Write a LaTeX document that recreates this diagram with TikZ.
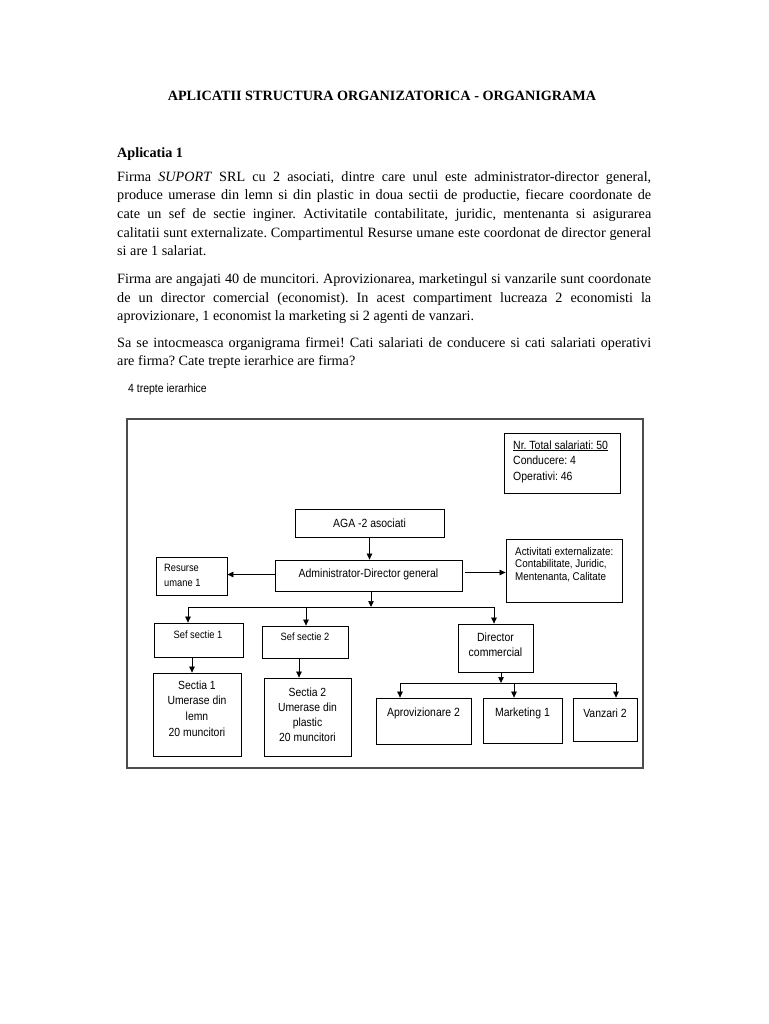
\documentclass[tikz,border=0pt]{standalone}
\usepackage{fontspec}
\setmainfont{Liberation Serif}
\newfontfamily\arialf[FakeStretch=0.88]{Liberation Sans}
\usetikzlibrary{arrows.meta}
\frenchspacing
\tikzset{
  box/.style={draw=black, line width=0.8pt, inner sep=0pt, rectangle},
  tx/.style={inner sep=0pt, font=\arialf},
  conn/.style={draw=black, line width=0.7pt},
  arr/.style={conn, -{Triangle[length=6pt,width=5.5pt]}},
  bodyline/.style={anchor=base west, inner sep=0pt, font=\fontsize{14.2}{18.5}\selectfont},
}
\newcommand{\jl}[1]{\makebox[534pt][s]{#1}}
\begin{document}
\begin{tikzpicture}[x=1pt,y=-1pt]
\useasboundingbox[fill=white] (0,0) rectangle (768,1024);

% ---- heading and body text ----
\node[anchor=base, inner sep=0pt, font=\fontsize{14.2}{18.5}\selectfont\bfseries] (title) at (382,100.5) {APLICATII STRUCTURA ORGANIZATORICA - ORGANIGRAMA};
\node[bodyline, font=\fontsize{14.2}{18.5}\selectfont\bfseries] (apl) at (117,157.5) {Aplicatia 1};

\node[bodyline] (p1a) at (117,181.5) {\jl{Firma \textit{SUPORT} SRL cu 2 asociati, dintre care unul este administrator-director general,}};
\node[bodyline] (p1b) at (117,200) {\jl{produce umerase din lemn si din plastic in doua sectii de productie, fiecare coordonate de}};
\node[bodyline] (p1c) at (117,218.5) {\jl{cate un sef de sectie inginer. Activitatile contabilitate, juridic, mentenanta si asigurarea}};
\node[bodyline] (p1d) at (117,237) {\jl{calitatii sunt externalizate. Compartimentul Resurse umane este coordonat de director general}};
\node[bodyline] (p1e) at (117,255.5) {si are 1 salariat.};

\node[bodyline] (p2a) at (117,283.5) {\jl{Firma are angajati 40 de muncitori. Aprovizionarea, marketingul si vanzarile sunt coordonate}};
\node[bodyline] (p2b) at (117,302) {\jl{de un director comercial (economist). In acest compartiment lucreaza 2 economisti la}};
\node[bodyline] (p2c) at (117,320.5) {aprovizionare, 1 economist la marketing si 2 agenti de vanzari.};

\node[bodyline] (p3a) at (117,347) {\jl{Sa se intocmeasca organigrama firmei! Cati salariati de conducere si cati salariati operativi}};
\node[bodyline] (p3b) at (117,365.5) {are firma? Cate trepte ierarhice are firma?};

\node[anchor=base west, inner sep=0pt, font=\arialf\fontsize{11.9}{13}\selectfont] (trepte) at (128,392) {4 trepte ierarhice};

% ---- frame ----
\node[draw=black!70, line width=1.8pt, inner sep=0pt, minimum width=516pt, minimum height=349pt] (frame) at (385,593.5) {};

% ---- boxes ----
\node[box, minimum width=116pt, minimum height=60pt] (nr) at (562,463) {};
\node[box, minimum width=149pt, minimum height=28pt] (aga) at (369.5,523) {};
\node[box, minimum width=187pt, minimum height=31pt] (adm) at (368.5,575.5) {};
\node[box, minimum width=71pt, minimum height=38pt] (res) at (191.5,576) {};
\node[box, minimum width=116pt, minimum height=63pt] (act) at (564,570.5) {};
\node[box, minimum width=89pt, minimum height=34pt] (sef1) at (198.5,640) {};
\node[box, minimum width=86pt, minimum height=32pt] (sef2) at (305,642) {};
\node[box, minimum width=75pt, minimum height=48pt] (dir) at (495.5,648) {};
\node[box, minimum width=88pt, minimum height=83pt] (sec1) at (197,714.5) {};
\node[box, minimum width=87pt, minimum height=78pt] (sec2) at (307.5,717) {};
\node[box, minimum width=95pt, minimum height=46pt] (apr) at (423.5,721) {};
\node[box, minimum width=79pt, minimum height=45pt] (mkt) at (522.5,720.5) {};
\node[box, minimum width=64pt, minimum height=43pt] (vz) at (605,719.5) {};

% ---- box texts ----
\node[tx, anchor=west, align=left, font=\arialf\fontsize{11.9}{15.5}\selectfont] (nr-t) at (513,461.5) {\underline{Nr. Total salariati: 50}\\Conducere: 4\\Operativi: 46};
\node[tx, font=\arialf\fontsize{11.9}{13}\selectfont] (aga-t) at (369.5,523) {AGA -2 asociati};
\node[tx, font=\arialf\fontsize{11.9}{13}\selectfont] (adm-t) at (368.5,574.5) {Administrator-Director general};
\node[tx, anchor=west, align=left, font=\arialf\fontsize{10.6}{15}\selectfont] (res-t) at (164,575.5) {Resurse\\umane 1};
\node[tx, anchor=west, align=left, font=\arialf\fontsize{11.2}{12.5}\selectfont] (act-t) at (515,564.5) {Activitati externalizate:\\Contabilitate, Juridic,\\Mentenanta, Calitate};
\node[tx, font=\arialf\fontsize{10.6}{12}\selectfont] (sef1-t) at (198,635) {Sef sectie 1};
\node[tx, font=\arialf\fontsize{10.6}{12}\selectfont] (sef2-t) at (305,637) {Sef sectie 2};
\node[tx, align=center, font=\arialf\fontsize{11.9}{15}\selectfont] (dir-t) at (495.5,644.5) {Director\\commercial};
\node[tx, align=center, font=\arialf\fontsize{11.8}{15.7}\selectfont] (sec1-t) at (197,708.5) {Sectia 1\\Umerase din\\lemn\\20 muncitori};
\node[tx, align=center, font=\arialf\fontsize{11.8}{15}\selectfont] (sec2-t) at (307.5,714.5) {Sectia 2\\Umerase din\\plastic\\20 muncitori};
\node[tx, font=\arialf\fontsize{11.9}{13}\selectfont] (apr-t) at (423.5,713) {Aprovizionare 2};
\node[tx, font=\arialf\fontsize{11.9}{13}\selectfont] (mkt-t) at (522.5,713) {Marketing 1};
\node[tx, font=\arialf\fontsize{11.9}{13}\selectfont] (vz-t) at (605,713) {Vanzari 2};

% ---- connector points ----
\coordinate (b1) at (188,607);
\coordinate (b2) at (306,607);
\coordinate (bm) at (371,607);
\coordinate (b3) at (494,607);
\coordinate (c0) at (501,683);
\coordinate (c1) at (400,683);
\coordinate (c2) at (514,683);
\coordinate (c3) at (616,683);

% ---- connectors ----
\draw[arr] (aga.south) -- (aga.south |- adm.north);
\draw[arr] ([yshift=1pt]adm.west) -- ([yshift=1pt]adm.west -| res.east);
\draw[arr] ([xshift=3pt,yshift=3pt]adm.east) -- ([yshift=3pt]adm.east -| act.west);
\draw[arr] (adm.south -| bm) -- (bm);
\draw[conn] (b1) -- (b3);
\draw[arr] (b1) -- (b1 |- sef1.north);
\draw[arr] (b2) -- (b2 |- sef2.north);
\draw[arr] (b3) -- (b3 |- dir.north);
\draw[arr] ([xshift=-6.5pt]sef1.south) -- ([xshift=-6.5pt]sef1.south |- sec1.north);
\draw[arr] ([xshift=-6pt]sef2.south) -- ([xshift=-6pt]sef2.south |- sec2.north);
\draw[arr] (dir.south -| c0) -- (c0);
\draw[conn] (c1) -- (c3);
\draw[arr] (c1) -- (c1 |- apr.north);
\draw[arr] (c2) -- (c2 |- mkt.north);
\draw[arr] (c3) -- (c3 |- vz.north);
\end{tikzpicture}
\end{document}
